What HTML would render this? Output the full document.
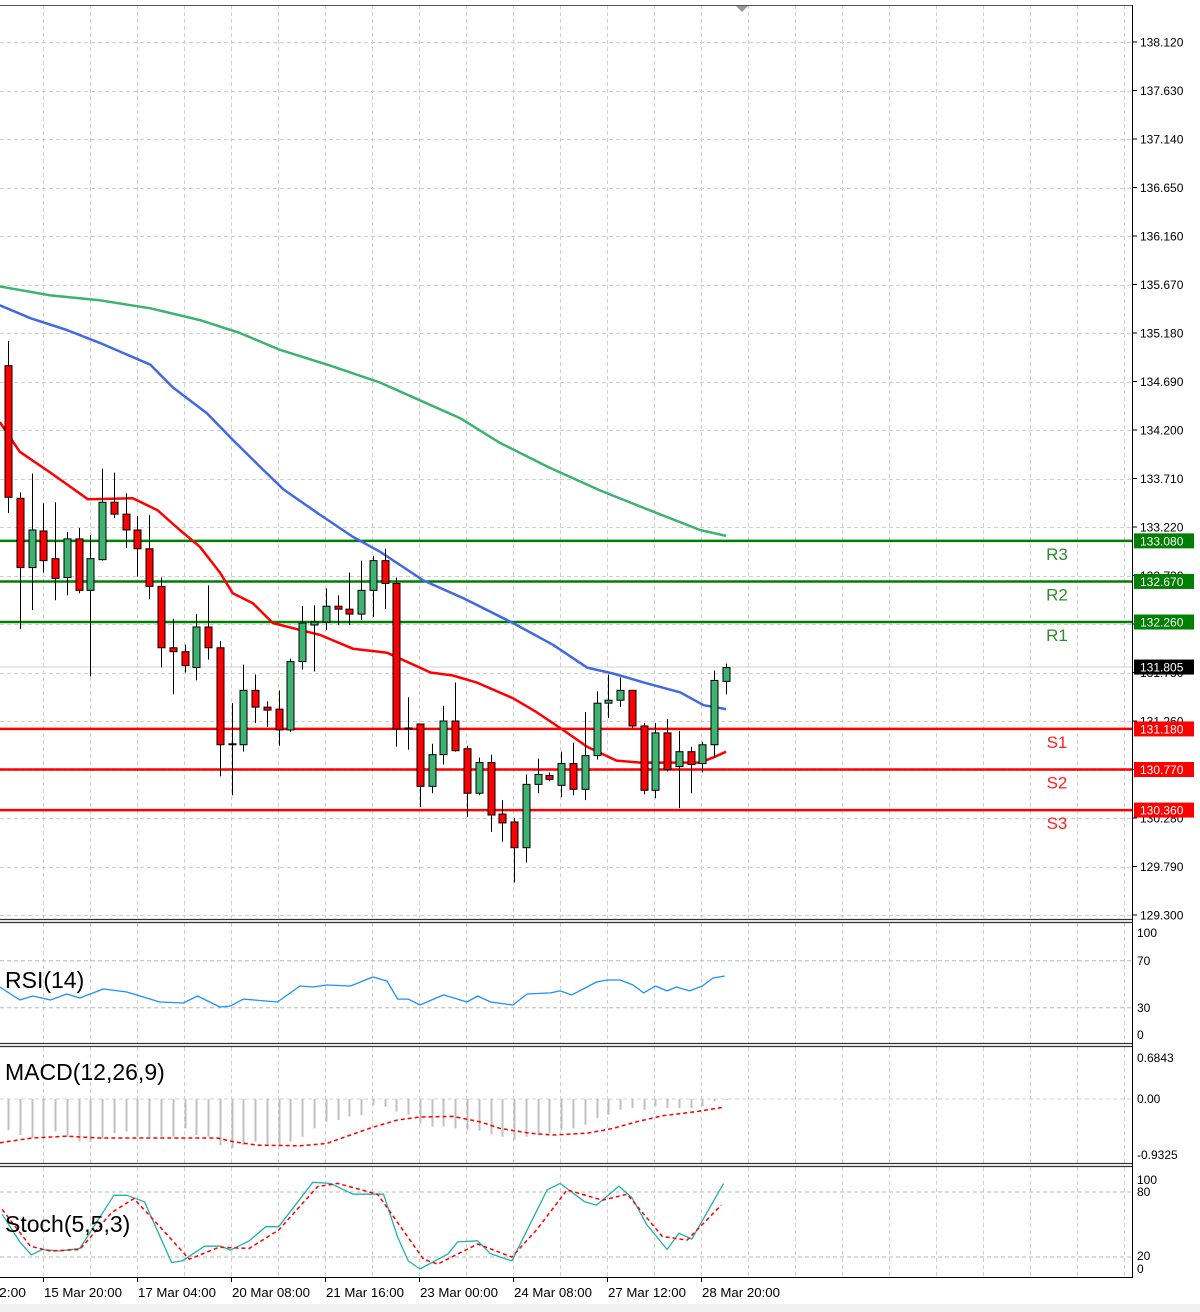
<!DOCTYPE html>
<html><head><meta charset="utf-8"><style>
html,body{margin:0;padding:0;background:#fff;}
svg{display:block;font-family:"Liberation Sans",sans-serif;}
</style></head><body>
<svg id="chart" width="1200" height="1312" viewBox="0 0 1200 1312" xmlns="http://www.w3.org/2000/svg">
<rect x="0" y="0" width="1200" height="1312" fill="#fff"/>
<rect x="0" y="1304" width="1200" height="8" fill="#f0f0f0"/>
<g id="grid"></g>
<g id="levels"></g>
<g id="mas"></g>
<g id="candles"></g>
<g id="rsi"></g>
<g id="macd"></g>
<g id="stoch"></g>
<g id="axes"></g>
</svg>
<script>
// ---- data ----
const candleOpen  = [134.85,133.51,132.81,133.18,132.90,132.71,133.10,132.58,132.89,133.47,133.35,133.19,133.00,132.62,132.00,131.96,131.80,132.21,132.00,131.03,131.02,131.57,131.40,131.38,131.17,131.86,132.23,132.26,132.42,132.39,132.34,132.58,132.88,132.65,131.18,131.23,130.60,130.92,131.26,130.98,130.53,130.84,130.32,130.24,129.98,130.62,130.71,130.61,130.83,130.57,130.91,131.44,131.47,131.57,131.21,130.56,131.14,130.80,130.95,130.83,131.02,131.66];
const candleHigh  = [135.10,133.57,133.76,133.46,133.47,133.17,133.21,133.14,133.81,133.77,133.56,133.33,133.34,132.71,132.29,132.03,132.34,132.63,132.07,131.44,131.83,131.73,131.46,131.57,131.89,132.42,132.43,132.60,132.53,132.76,132.88,132.93,133.00,132.71,131.50,131.23,131.03,131.41,131.65,131.01,130.89,130.92,130.46,130.28,130.72,130.88,130.74,130.95,131.04,131.35,131.56,131.73,131.70,131.57,131.24,131.24,131.28,131.16,131.00,131.05,131.77,131.84];
const candleLow   = [133.36,132.19,132.38,132.76,132.48,132.53,132.55,131.71,132.88,133.31,133.01,132.72,132.49,131.80,131.53,131.75,131.67,131.88,130.70,130.51,130.95,131.24,131.20,131.01,131.15,131.78,131.76,132.18,132.23,132.23,132.28,132.31,132.39,131.00,130.97,130.39,130.53,130.82,130.95,130.29,130.51,130.14,130.04,129.63,129.83,130.53,130.65,130.49,130.51,130.46,130.87,131.29,131.40,131.19,130.52,130.48,130.75,130.38,130.53,130.74,130.89,131.53];
const candleClose = [133.52,132.81,133.19,132.88,132.70,133.10,132.58,132.90,133.47,133.35,133.19,133.00,132.62,132.00,131.96,131.82,132.21,132.00,131.02,131.03,131.57,131.40,131.37,131.17,131.86,132.25,132.26,132.42,132.39,132.34,132.58,132.88,132.65,131.18,131.19,130.60,130.92,131.26,130.96,130.53,130.84,130.31,130.23,129.98,130.62,130.72,130.67,130.83,130.57,130.91,131.44,131.47,131.57,131.21,130.56,131.14,130.77,130.95,130.82,131.02,131.67,131.80];

const maRedIdx = [-0.7,1.0,3.6,6.8,10.6,12.7,14.6,16.3,18.0,19.1,20.8,22.5,24.8,26.5,29.3,32.2,35.9,37.8,39.8,42.9,44.9,46.9,49.2,51.7,53.7,58.8,59.9,61.0];
const maRedVal = [134.28,133.98,133.77,133.50,133.51,133.39,133.19,133.02,132.76,132.55,132.45,132.25,132.18,132.13,131.99,131.95,131.75,131.72,131.65,131.49,131.35,131.19,131.00,130.86,130.84,130.84,130.89,130.95];
const maBlueIdx = [-0.7,1.9,5.0,7.8,12.1,14.0,16.9,19.1,21.4,23.4,26.3,29.3,31.6,35.3,38.7,42.9,46.3,49.2,51.4,54.3,57.1,59.1,61.0];
const maBlueVal = [135.46,135.33,135.21,135.08,134.86,134.63,134.37,134.10,133.83,133.60,133.36,133.12,132.97,132.68,132.50,132.25,132.03,131.80,131.74,131.64,131.55,131.42,131.38];
const maGreenIdx = [-0.7,3.6,7.8,12.1,16.3,19.7,23.1,27.4,31.6,35.0,38.4,41.8,46.0,50.3,54.5,58.8,61.0];
const maGreenVal = [135.65,135.56,135.51,135.43,135.31,135.18,135.01,134.85,134.68,134.50,134.32,134.07,133.82,133.59,133.39,133.19,133.13];

const levelNames = ["R3","R2","R1","S1","S2","S3"];
const levelPrices = [133.080,132.670,132.260,131.180,130.770,130.360];
const currentPrice = 131.805;
const priceTicks = [138.120,137.630,137.140,136.650,136.160,135.670,135.180,134.690,134.200,133.710,133.220,132.730,132.240,131.750,131.260,130.770,130.280,129.790,129.300];
const timeLabels = ["2:00","15 Mar 20:00","17 Mar 04:00","20 Mar 08:00","21 Mar 16:00","23 Mar 00:00","24 Mar 08:00","27 Mar 12:00","28 Mar 20:00"];

const rsiIdx = [-0.7,1.0,2.1,3.6,5.0,6.1,8.1,10.1,12.9,14.9,16.1,18.0,18.9,20.0,22.9,24.8,25.9,27.1,29.1,31.0,32.2,33.1,34.0,35.0,37.0,39.0,39.9,41.0,42.9,44.1,46.1,46.9,47.9,50.0,50.9,52.0,53.1,54.0,55.0,56.0,56.8,57.9,59.0,59.9,60.9];
const rsiVal = [47.7,36.6,40,36.6,41.7,38.3,46,43.4,34.9,34,40,30.6,31.5,37.4,34.9,48.5,47.7,49.4,48.5,56.2,52.8,37.4,37.4,32.3,40.9,34.9,40,34.9,32.3,41.7,42.6,44.3,40.9,51.9,53.6,53.6,49.4,42.6,48.5,44.3,47.7,44.3,48.5,55.3,57];

const macdHist = [-0.52,-0.60,-0.65,-0.65,-0.54,-0.63,-0.71,-0.71,-0.66,-0.57,-0.54,-0.63,-0.63,-0.63,-0.63,-0.49,-0.60,-0.63,-0.77,-0.82,-0.77,-0.71,-0.77,-0.77,-0.71,-0.63,-0.49,-0.38,-0.35,-0.29,-0.27,-0.10,-0.13,-0.21,-0.26,-0.41,-0.46,-0.46,-0.49,-0.52,-0.53,-0.59,-0.63,-0.68,-0.63,-0.60,-0.57,-0.52,-0.49,-0.43,-0.32,-0.26,-0.18,-0.15,-0.18,-0.12,-0.15,-0.15,-0.15,-0.12,-0.04,-0.02];
const macdSigIdx = [-0.7,1.0,2.1,5.0,7.8,12.1,17.8,19.1,21.2,24.8,27.1,29.1,31.0,33.1,35.0,37.8,40.1,41.8,44.3,46.3,49.2,51.4,53.4,55.6,58.5,60.7];
const macdSigVal = [-0.73,-0.68,-0.65,-0.62,-0.65,-0.65,-0.65,-0.71,-0.77,-0.78,-0.74,-0.60,-0.47,-0.35,-0.30,-0.29,-0.38,-0.49,-0.57,-0.60,-0.57,-0.49,-0.38,-0.28,-0.21,-0.14];

const stochMainIdx = [-0.5,1.0,2.0,2.9,4.4,6.1,9.0,10.1,11.6,13.9,14.8,16.7,18.1,18.9,20.5,21.9,23.0,25.9,27.4,29.3,31.9,33.1,34.0,35.0,37.4,38.2,39.9,41.0,42.8,45.8,46.9,49.0,50.0,51.9,53.0,54.3,56.0,57.0,58.1,60.8];
const stochMainVal = [59.6,34,22,27,25.6,28,77,77,71,15,16.4,30,30,26.4,35,48,48,89,88,78,78,38.5,16.4,9,23,34,35,23,16.4,82,88,71,68,85.5,75,49.6,27,42,36.6,88];
const stochSigIdx = [-0.5,1.9,3.6,6.1,8.8,10.7,12.4,15.4,17.9,20.5,23.0,26.3,28.0,31.4,35.3,36.5,39.9,42.8,44.9,47.5,50.5,52.6,55.6,57.7,60.6];
const stochSigVal = [64,30,25.6,27,61,74,54,18,29,28,45,85,88,78,18,13.5,32,20,45,82,72.5,78,39,35.6,68];

// ---- scales ----
const NS="http://www.w3.org/2000/svg";
const xOf = i => 8 + i*11.77;
const yPrice = p => 42 + (138.12 - p)*98.98;
const yRsi = v => 1043 - v*1.175;
const yMacd = v => 1099 - v*60;
const yStoch = v => 1278.7 - v*1.083;
function mk(tag, attrs, parent){const e=document.createElementNS(NS,tag);for(const k in attrs)e.setAttribute(k,attrs[k]);parent.appendChild(e);return e;}
const $=id=>document.getElementById(id);

// grid
const grid=$('grid');
for(let k=0;k<24;k++){const x=43.5+47*k;
  [[5,918],[923,1043],[1047,1163],[1167,1277]].forEach(r=>{
    const l=mk('line',{x1:x,x2:x,y1:r[0],y2:r[1],stroke:'#d0d0d0','stroke-dasharray':'4,3','stroke-width':1},grid);
    
    
  });
}
priceTicks.forEach(p=>{const y=Math.round(yPrice(p))+0.5;
  const l=mk('line',{x1:0,x2:1132,y1:y,y2:y,stroke:'#d0d0d0','stroke-dasharray':'4,3'},grid);
  
  
});
[70,30].forEach(v=>{const l=mk('line',{x1:0,x2:1132,y1:yRsi(v),y2:yRsi(v),stroke:'#b8b8b8','stroke-dasharray':'4,3'},grid);
  
  });
[80,20].forEach(v=>{const l=mk('line',{x1:0,x2:1132,y1:yStoch(v),y2:yStoch(v),stroke:'#b8b8b8','stroke-dasharray':'4,3'},grid);
  
  });
{const l=mk('line',{x1:0,x2:1132,y1:yMacd(0),y2:yMacd(0),stroke:'#d0d0d0','stroke-dasharray':'4,3'},grid);
  
  }

// current price line
{const y=yPrice(currentPrice);const l=mk('line',{x1:0,x2:1132,y1:y,y2:y,stroke:'#d0d0d0','stroke-width':1},$('levels'));
 
 }

// levels
levelPrices.forEach((p,i)=>{const y=yPrice(p);const res=levelNames[i][0]==='R';const col=res?'#008000':'#ff0000';
  const g=$('levels');
  const l=mk('line',{x1:0,x2:1133,y1:y,y2:y,stroke:col,'stroke-width':2.5},g);
  
  
  const t=mk('text',{x:1057,y:y+19,'font-size':17,fill:res?'#2e8b2e':'#ff2020','text-anchor':'middle'},g);t.textContent=levelNames[i];
  
  
});

// moving averages
function line(idx,val,ys,col,w,parent,name,dash){
  const d=idx.map((i,k)=>(k?'L':'M')+xOf(i).toFixed(1)+','+ys(val[k]).toFixed(1)).join('');
  const a={d:d,fill:'none',stroke:col,'stroke-width':w,'stroke-linejoin':'round'};if(dash)a['stroke-dasharray']=dash;
  const p=mk('path',a,parent);
  
  
}
line(maGreenIdx,maGreenVal,yPrice,'#3cb371',2.5,$('mas'),'ma-green');
line(maBlueIdx,maBlueVal,yPrice,'#4169e1',2.5,$('mas'),'ma-blue');
line(maRedIdx,maRedVal,yPrice,'#ff0000',2.5,$('mas'),'ma-red');

// candles
candleOpen.forEach((o,i)=>{const c=candleClose[i],h=candleHigh[i],lo=candleLow[i];const x=Math.round(xOf(i));
  const g=$('candles');
  const w=mk('line',{x1:x+0.5,x2:x+0.5,y1:yPrice(h),y2:yPrice(lo),stroke:'#000','stroke-width':1},g);
  
  
  const top=yPrice(Math.max(o,c)),bot=yPrice(Math.min(o,c));
  const r=mk('rect',{x:x-3,y:top,width:7,height:Math.max(1,bot-top),fill:c>=o?'#3cb371':'#ff0000',stroke:'#000','stroke-width':1},g);
  
  
});

// RSI
line(rsiIdx,rsiVal,yRsi,'#1e90ff',1.3,$('rsi'),'rsi-line');
// MACD histogram
macdHist.forEach((v,i)=>{const x=Math.round(xOf(i))+0.5;
  const l=mk('line',{x1:x,x2:x,y1:yMacd(0),y2:yMacd(v),stroke:'#c0c0c0','stroke-width':2},$('macd'));
  
  
});
line(macdSigIdx,macdSigVal,yMacd,'#ff0000',1.5,$('macd'),'macd-signal-line','4,3');
// Stoch
line(stochMainIdx,stochMainVal,yStoch,'#20b2aa',1.3,$('stoch'),'stoch-main-line');
line(stochSigIdx,stochSigVal,yStoch,'#ff0000',1.5,$('stoch'),'stoch-signal-line','4,3');

// axes & separators
const ax=$('axes');
function sep(y){[y,y+3].forEach(yy=>{const l=mk('line',{x1:0,x2:1132,y1:yy,y2:yy,stroke:'#333','stroke-width':1.3},ax);
  
  });}
sep(919.5);sep(1043.5);sep(1163.5);
{const l=mk('line',{x1:0,x2:1132,y1:5.5,y2:5.5,stroke:'#555'},ax);}
{const p=mk('path',{d:'M736,6 L748,6 L742,12 Z',fill:'#999'},ax);}
{const l=mk('line',{x1:1132.5,x2:1132.5,y1:5,y2:1278,stroke:'#000'},ax);}
{const l=mk('line',{x1:0,x2:1133,y1:1277.5,y2:1277.5,stroke:'#000'},ax);}
priceTicks.forEach(p=>{const y=yPrice(p);
  const tk=mk('line',{x1:1132,x2:1137,y1:y,y2:y,stroke:'#000'},ax);
  
  
  const t=mk('text',{x:1140,y:y+4.5,'font-size':12,fill:'#000'},ax);t.textContent=p.toFixed(3);
  
  
});
function tag(p,bg,name){const y=yPrice(p);
  const r=mk('rect',{x:1134,y:y-7.5,width:60,height:15,fill:bg},ax);
  
  
  const t=mk('text',{x:1140,y:y+4.5,'font-size':12,fill:'#fff'},ax);t.textContent=p.toFixed(3);
  
  }
levelPrices.forEach((p,i)=>tag(p,levelNames[i][0]==='R'?'#008000':'#ff0000','level-'+levelNames[i].toLowerCase()));
tag(currentPrice,'#000','current-price');
function side(txt,y,name){const t=mk('text',{x:1137,y:y,'font-size':12,fill:'#000'},ax);t.textContent=txt;
  
  }
side('100',937,'rsi-label-100');side('70',965,'rsi-label-70');side('30',1012,'rsi-label-30');side('0',1039,'rsi-label-0');
side('0.6843',1062,'macd-label-max');side('0.00',1103,'macd-label-zero');side('-0.9325',1159,'macd-label-min');
side('100',1184,'stoch-label-100');side('80',1196,'stoch-label-80');side('20',1260,'stoch-label-20');side('0',1273,'stoch-label-0');
timeLabels.forEach((s,k)=>{const x=k===0?-1:43+94*(k-1);
  if(k>0){const tk=mk('line',{x1:x+0.5,x2:x+0.5,y1:1277,y2:1282,stroke:'#000'},ax);
    
    }
  const t=mk('text',{x:x+(k?1:0),y:1297,'font-size':13,fill:'#000',textLength:k?78:27,lengthAdjust:'spacingAndGlyphs'},ax);t.textContent=s;
  
  
});
function title(txt,y,name){const t=mk('text',{x:5,y:y,'font-size':23,fill:'#000'},ax);t.textContent=txt;
  
  }
title('RSI(14)',988,'rsi-title');title('MACD(12,26,9)',1080,'macd-title');title('Stoch(5,5,3)',1232,'stoch-title');
</script>
</body></html>
